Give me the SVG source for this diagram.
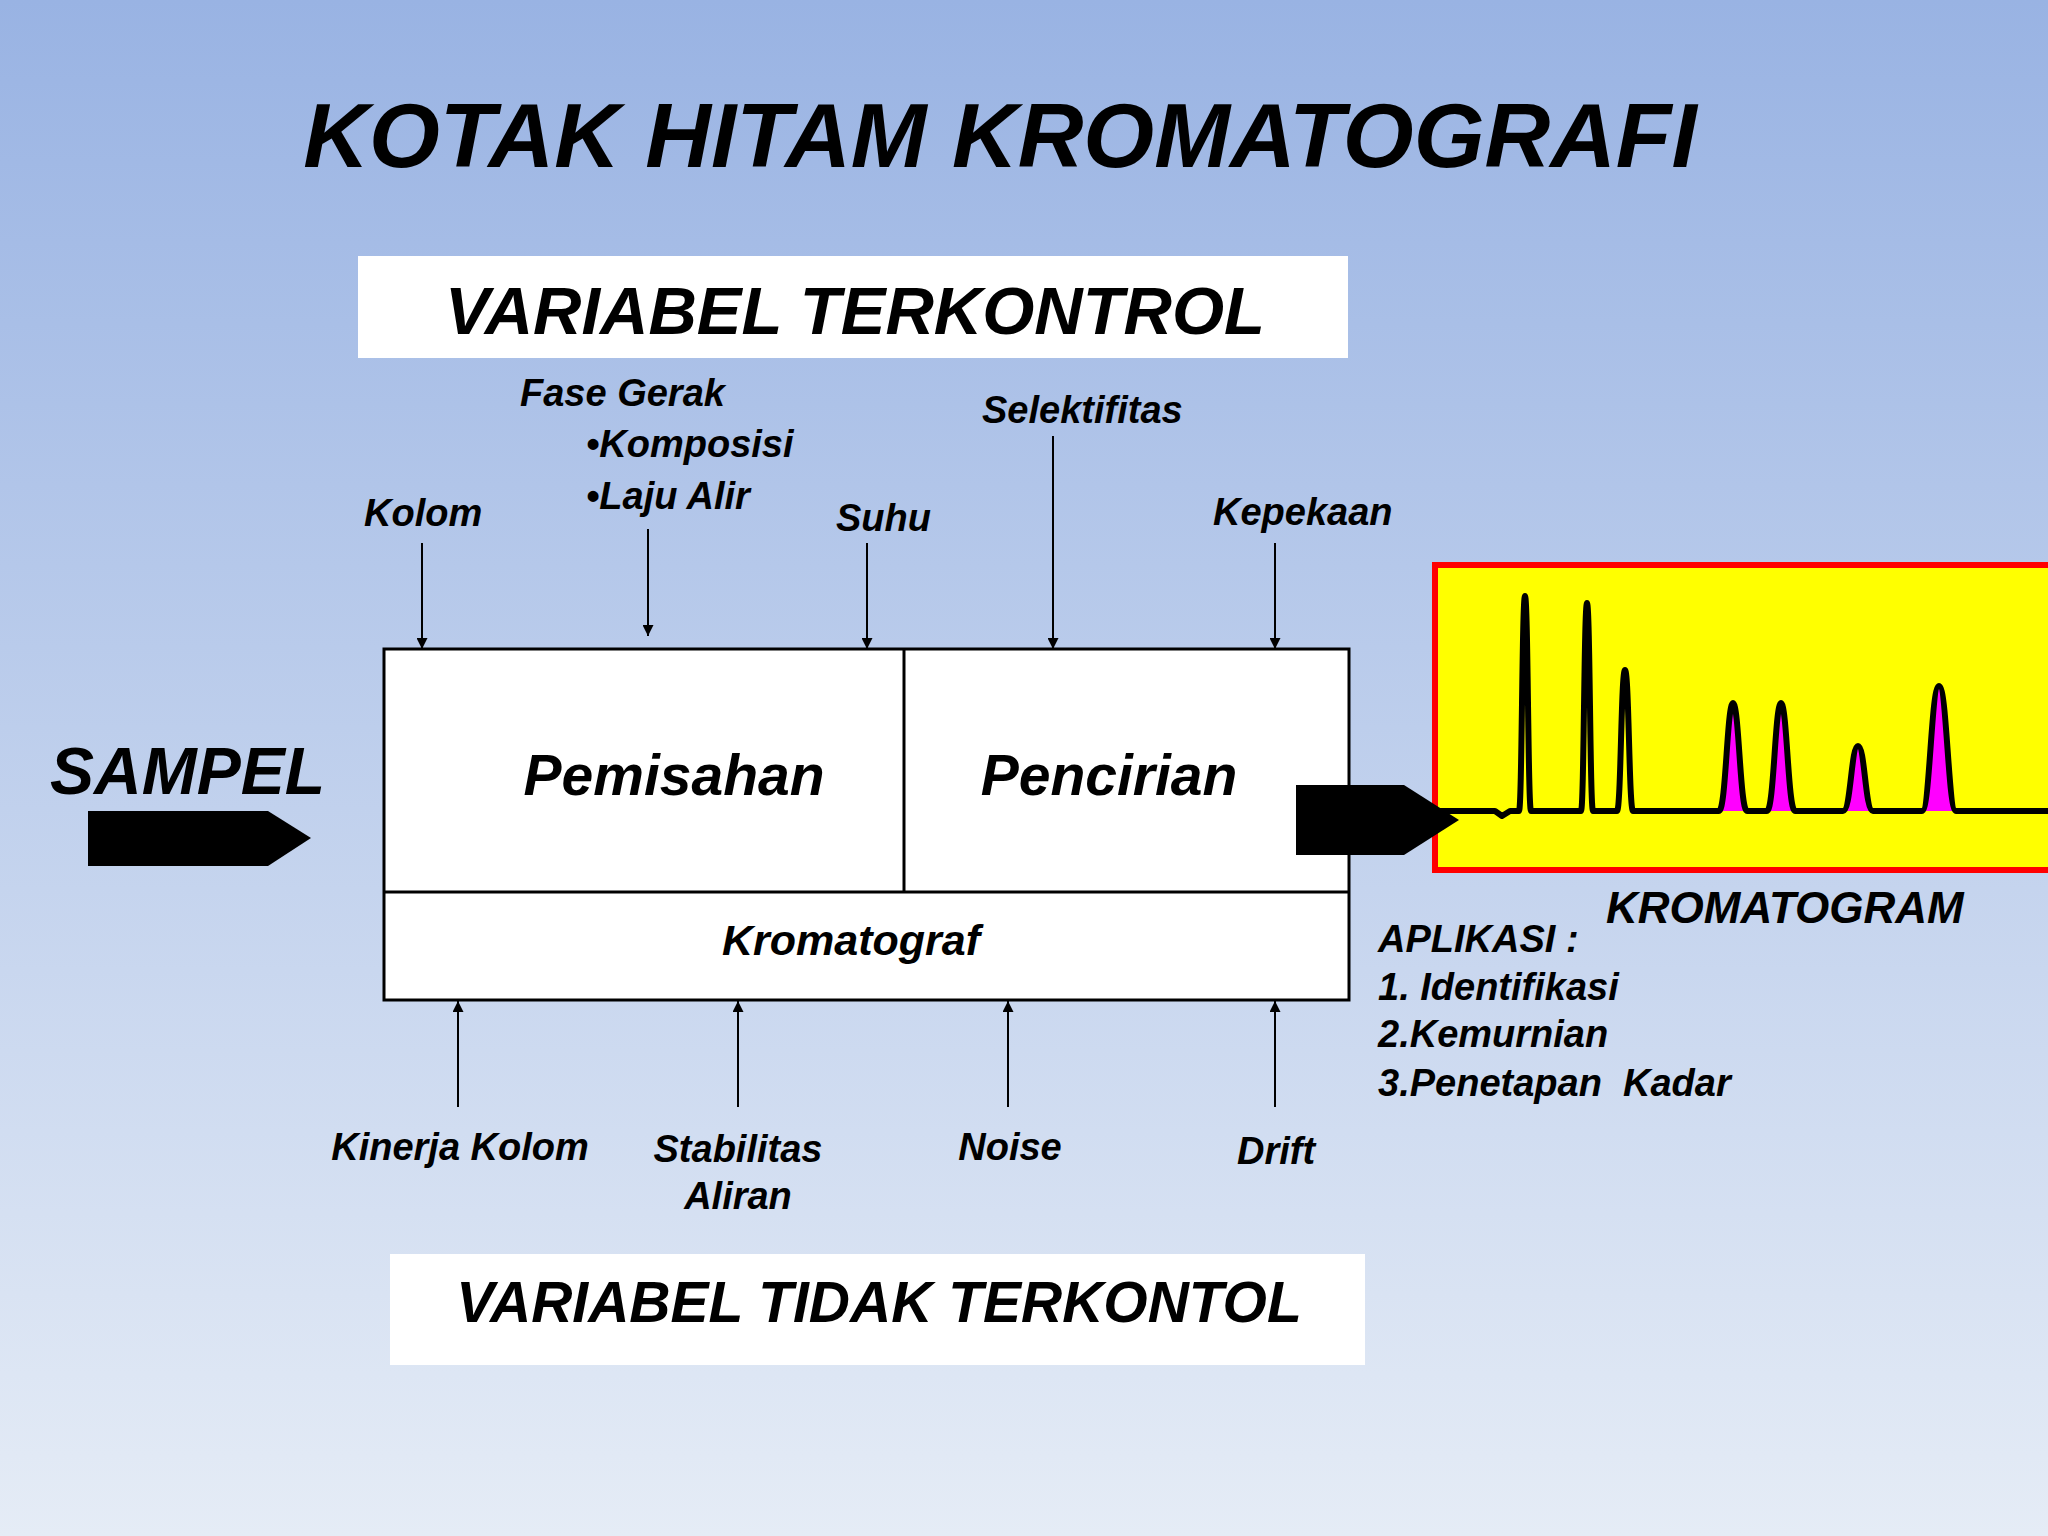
<svg xmlns="http://www.w3.org/2000/svg" width="2048" height="1536" viewBox="0 0 2048 1536">
<defs>
<linearGradient id="bg" x1="0" y1="0" x2="0" y2="1"><stop offset="0" stop-color="#99b3e3"/><stop offset="1" stop-color="#e5ecf6"/></linearGradient>
<marker id="ah" viewBox="0 0 10 10" refX="10" refY="5" markerWidth="11" markerHeight="11" markerUnits="userSpaceOnUse" orient="auto"><path d="M0,0 L10,5 L0,10 z" fill="#000"/></marker>
<style>
text{font-family:"Liberation Sans",Arial,sans-serif;font-weight:bold;font-style:italic;fill:#000}
.l{font-size:38px}
.c{stroke:#000;stroke-width:2;fill:none;marker-end:url(#ah)}
.box{fill:#fff;stroke:#000;stroke-width:3}
</style>
</defs>
<rect width="2048" height="1536" fill="url(#bg)"/>
<text x="1000" y="167" font-size="91" text-anchor="middle">KOTAK HITAM KROMATOGRAFI</text>
<g id="vt"><rect x="358" y="256" width="990" height="102" fill="#fff"/><text x="855" y="334" font-size="67" text-anchor="middle">VARIABEL TERKONTROL</text></g>
<g id="vtt"><rect x="390" y="1254" width="975" height="111" fill="#fff"/><text x="879" y="1322" font-size="57" text-anchor="middle">VARIABEL TIDAK TERKONTOL</text></g>
<g id="main">
<rect class="box" x="384" y="649" width="965" height="351"/>
<line x1="384" y1="892" x2="1349" y2="892" stroke="#000" stroke-width="3"/>
<line x1="904" y1="649" x2="904" y2="892" stroke="#000" stroke-width="3"/>
<text x="674" y="795" font-size="57" text-anchor="middle">Pemisahan</text>
<text x="1109" y="795" font-size="57" text-anchor="middle">Pencirian</text>
<text x="851" y="955" font-size="43" text-anchor="middle">Kromatograf</text>
</g>
<g id="labels">
<text class="l" x="364" y="526">Kolom</text>
<text class="l" x="520" y="406">Fase Gerak</text>
<text class="l" x="586" y="457">•Komposisi</text>
<text class="l" x="586" y="509">•Laju Alir</text>
<text class="l" x="836" y="531">Suhu</text>
<text class="l" x="982" y="423">Selektifitas</text>
<text class="l" x="1213" y="525">Kepekaan</text>
<text class="l" x="460" y="1160" text-anchor="middle">Kinerja Kolom</text>
<text class="l" x="738" y="1162" text-anchor="middle">Stabilitas</text>
<text class="l" x="738" y="1209" text-anchor="middle">Aliran</text>
<text class="l" x="1010" y="1160" text-anchor="middle">Noise</text>
<text class="l" x="1276" y="1164" text-anchor="middle">Drift</text>
<text x="50" y="794" font-size="66">SAMPEL</text>
<text x="1606" y="923" font-size="44">KROMATOGRAM</text>
<text class="l" x="1378" y="952">APLIKASI :</text>
<text class="l" x="1378" y="1000">1. Identifikasi</text>
<text class="l" x="1378" y="1047">2.Kemurnian</text>
<text class="l" x="1378" y="1096" xml:space="preserve">3.Penetapan  Kadar</text>
</g>
<g id="chrom">
<rect x="1435" y="565" width="620" height="305" fill="#ffff00" stroke="#ff0000" stroke-width="6"/>
<g fill="#ff00ff">
<path d="M1719,811 C1726,811 1727,703 1733,703 C1739,703 1740,811 1747,811 z"/>
<path d="M1767,811 C1774,811 1775,703 1781,703 C1787,703 1788,811 1795,811 z"/>
<path d="M1843,811 C1851,811 1851,746 1858,746 C1865,746 1865,811 1873,811 z"/>
<path d="M1922,811 C1930,811 1931,686 1939,686 C1947,686 1948,811 1956,811 z"/>
</g>
<path d="M1437,811 H1495 L1502,816 L1510,811 H1519 C1522,811 1522,596 1525,596 C1528,596 1528,811 1531,811 H1581 C1584,811 1584,603 1587,603 C1590,603 1590,811 1593,811 H1617 C1621,811 1621,670 1625,670 C1629,670 1629,811 1633,811 H1719 C1726,811 1727,703 1733,703 C1739,703 1740,811 1747,811 H1767 C1774,811 1775,703 1781,703 C1787,703 1788,811 1795,811 H1843 C1851,811 1851,746 1858,746 C1865,746 1865,811 1873,811 H1922 C1930,811 1931,686 1939,686 C1947,686 1948,811 1956,811 H2048" fill="none" stroke="#000" stroke-width="6" stroke-linejoin="round"/>
</g>
<g id="connectors">
<line class="c" x1="422" y1="543" x2="422" y2="649"/>
<line class="c" x1="648" y1="529" x2="648" y2="636"/>
<line class="c" x1="867" y1="543" x2="867" y2="649"/>
<line class="c" x1="1053" y1="436" x2="1053" y2="649"/>
<line class="c" x1="1275" y1="543" x2="1275" y2="649"/>
<line class="c" x1="458" y1="1107" x2="458" y2="1001"/>
<line class="c" x1="738" y1="1107" x2="738" y2="1001"/>
<line class="c" x1="1008" y1="1107" x2="1008" y2="1001"/>
<line class="c" x1="1275" y1="1107" x2="1275" y2="1001"/>
<path d="M88,811 H268 L311,838 L268,866 H88 z" fill="#000"/>
<path d="M1296,785 H1404 L1459,820 L1404,855 H1296 z" fill="#000"/>
</g>
</svg>
